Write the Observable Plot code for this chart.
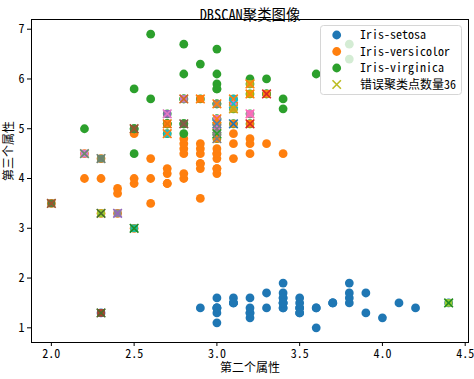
<!DOCTYPE html>
<html>
<head>
<meta charset="utf-8">
<script src="https://cdn.jsdelivr.net/npm/d3@7"></script>
<script src="https://cdn.jsdelivr.net/npm/@observablehq/plot@0.6"></script>
<style>
  html, body { margin: 0; padding: 0; background: #fff; }
  svg { display: block; }
</style>
</head>
<body>
<div id="chart"></div>
<script>
// ---- data (sepal width = 第二个属性, petal length = 第三个属性) ----
const setosaX = [3.5,3.0,3.2,3.1,3.6,3.9,3.4,3.4,2.9,3.1,3.7,3.4,3.0,3.0,4.0,4.4,3.9,3.5,3.8,3.8,3.4,3.7,3.6,3.3,3.4,3.0,3.4,3.5,3.4,3.2,3.1,3.4,4.1,4.2,3.1,3.2,3.5,3.6,3.0,3.4,3.5,2.3,3.2,3.5,3.8,3.0,3.8,3.2,3.7,3.3];
const setosaY = [1.4,1.4,1.3,1.5,1.4,1.7,1.4,1.5,1.4,1.5,1.5,1.6,1.4,1.1,1.2,1.5,1.3,1.4,1.7,1.5,1.7,1.5,1.0,1.7,1.9,1.6,1.6,1.5,1.4,1.6,1.6,1.5,1.5,1.4,1.5,1.2,1.3,1.4,1.3,1.5,1.3,1.3,1.3,1.6,1.9,1.4,1.6,1.4,1.5,1.4];
const versicolorX = [3.2,3.2,3.1,2.3,2.8,2.8,3.3,2.4,2.9,2.7,2.0,3.0,2.2,2.9,2.9,3.1,3.0,2.7,2.2,2.5,3.2,2.8,2.5,2.8,2.9,3.0,2.8,3.0,2.9,2.6,2.4,2.4,2.7,2.7,3.0,3.4,3.1,2.3,3.0,2.5,2.6,3.0,2.6,2.3,2.7,3.0,2.9,2.9,2.5,2.8];
const versicolorY = [4.7,4.5,4.9,4.0,4.6,4.5,4.7,3.3,4.6,3.9,3.5,4.2,4.0,4.7,3.6,4.4,4.5,4.1,4.5,3.9,4.8,4.0,4.9,4.7,4.3,4.4,4.8,5.0,4.5,3.5,3.8,3.7,3.9,5.1,4.5,4.5,4.7,4.4,4.1,4.0,4.4,4.6,4.0,3.3,4.2,4.2,4.2,4.3,3.0,4.1];
const virginicaX = [3.3,2.7,3.0,2.9,3.0,3.0,2.5,2.9,2.5,3.6,3.2,2.7,3.0,2.5,2.8,3.2,3.0,3.8,2.6,2.2,3.2,2.8,2.8,2.7,3.3,3.2,3.0,2.8,3.0,2.8,3.8,2.8,2.8,2.6,3.0,3.4,3.1,3.0,3.1,3.1,3.1,2.7,3.2,3.3,3.0,2.5,3.0,3.4,3.0];
const virginicaY = [6.0,5.1,5.9,5.6,5.8,6.6,4.5,6.3,5.8,6.1,5.1,5.3,5.5,5.0,5.1,5.3,5.5,6.7,6.9,5.0,5.7,4.9,6.7,4.9,5.7,6.0,4.9,5.6,5.8,6.1,6.4,5.6,5.1,5.6,6.1,5.6,5.5,4.8,5.4,5.6,5.1,5.1,5.9,5.7,5.2,5.0,5.2,5.4,5.1];
// wrongly clustered points, with the colours the original drew them in
const wrongX = [2.0,2.3,2.4,2.5,2.3,4.4,2.2,2.3,2.5,2.7,2.7,2.7,2.8,2.8,2.9,3.0,3.0,3.0,3.0,3.0,3.0,3.1,3.1,3.1,3.1,3.2,3.2,3.2,3.2,3.3];
const wrongY = [3.5,3.3,3.3,3.0,1.3,1.5,4.5,4.4,5.0,5.3,5.1,4.9,5.6,5.1,5.6,5.5,5.2,5.1,5.0,4.9,4.8,5.6,5.5,5.4,5.1,5.9,5.7,5.3,5.1,5.7];
const wrongFill = ["#5b7a3c","#9acd32","#8a8a8a","#1abc9c","#b0412a","#9acd32","#d07ad0","#6b8e6b","#5b7a3c","#9467bd","#ff7f0e","#17becf","#c27fc4","#5b7a3c","#ff7f0e","#8a8a8a","#e377c2","#ff7f0e","#e377c2","#8a8a8a","#ff7f0e","#17becf","#e377c2","#c8b21e","#ff7f0e","#c8b21e","#d4b000","#e377c2","#ff7f0e","#ff7f0e"];
const wrongStroke = ["#a0522d","#4b6b2b","#9467bd","#228b22","#4b6b2b","#228b22","#6b8e6b","#708070","#a0522d","#e377c2","#e8740c","#ff7f0e","#d2691e","#8c564b","#ff7f0e","#ff7f0e","#ff7f0e","#4682b4","#7f7f7f","#2ca02c","#7f7f7f","#ff7f0e","#17becf","#d4a017","#1f77b4","#ff7f0e","#ff7f0e","#ff69b4","#d62728","#d62728"];
const xTicks = [2.0, 2.5, 3.0, 3.5, 4.0, 4.5];
const yTicks = [1, 2, 3, 4, 5, 6, 7];
const legendLabels = ["Iris-setosa","Iris-versicolor","Iris-virginica","错误聚类点数量36"];
const seriesColors = ["#1f77b4","#ff7f0e","#2ca02c"];
const wrongLegendColor = "#bcbd22";

const zip = (xs, ys) => xs.map((x, i) => ({x, y: ys[i]}));
const setosa = zip(setosaX, setosaY);
const versicolor = zip(versicolorX, versicolorY);
const virginica = zip(virginicaX, virginicaY);
const wrong = wrongX.map((x, i) => ({x, y: wrongY[i], f: wrongFill[i], s: wrongStroke[i]}));

const FONT = '"Noto Sans Mono CJK SC", "DejaVu Sans Mono", "Noto Sans CJK SC", monospace';

const plot = Plot.plot({
  width: 474,
  height: 379,
  marginLeft: 31,
  marginRight: 6,
  marginTop: 19,
  marginBottom: 37,
  style: {fontFamily: FONT, fontSize: "12px", background: "#fff", color: "#000"},
  x: {domain: [1.88, 4.52], label: null},
  y: {domain: [0.705, 7.195], label: null},
  color: {type: "identity"},
  marks: [
    Plot.axisX(xTicks, {tickSize: 4, tickPadding: 3, fontSize: 12, tickFormat: d3.format(".1f"), label: null}),
    Plot.axisY(yTicks, {tickSize: 4, tickPadding: 3, fontSize: 12, tickFormat: d3.format("d"), label: null}),
    Plot.dot(setosa, {x: "x", y: "y", r: 4.4, fill: seriesColors[0]}),
    Plot.dot(versicolor, {x: "x", y: "y", r: 4.4, fill: seriesColors[1]}),
    Plot.dot(virginica, {x: "x", y: "y", r: 4.4, fill: seriesColors[2]}),
    Plot.dot(wrong, {x: "x", y: "y", symbol: "square", r: 4.3, fill: "f"}),
    Plot.dot(wrong, {x: "x", y: "y", symbol: "times", r: 4.0, stroke: "s", strokeWidth: 1.6}),
    Plot.frame({stroke: "#000", strokeWidth: 1}),
    Plot.text(["DBSCAN聚类图像"], {frameAnchor: "top", dy: -10, fontSize: 14.4}),
    Plot.text(["第二个属性"], {frameAnchor: "bottom", dy: 29, fontSize: 12}),
    Plot.text(["第三个属性"], {frameAnchor: "left", dx: -22, rotate: -90, fontSize: 12})
  ]
});
document.getElementById("chart").appendChild(plot);

// legend (matplotlib style, upper right, semi-transparent)
const svg = d3.select(plot);
const lg = svg.append("g").attr("font-family", FONT).attr("font-size", 12).attr("text-anchor", "start");
lg.append("rect").attr("x", 320.5).attr("y", 25.5).attr("width", 141).attr("height", 69)
  .attr("rx", 3).attr("fill", "#fff").attr("fill-opacity", 0.8)
  .attr("stroke", "#d6d6d6").attr("stroke-width", 1);
const rowsY = [35, 51.5, 68, 84.5];
legendLabels.forEach((lab, i) => {
  if (i < 3) {
    lg.append("circle").attr("cx", 336.7).attr("cy", rowsY[i]).attr("r", 4.4).attr("fill", seriesColors[i]);
  } else {
    const s = 4.2;
    lg.append("path").attr("d", `M${336.7 - s},${rowsY[i] - s}L${336.7 + s},${rowsY[i] + s}M${336.7 - s},${rowsY[i] + s}L${336.7 + s},${rowsY[i] - s}`)
      .attr("stroke", wrongLegendColor).attr("stroke-width", 1.6).attr("fill", "none");
  }
  lg.append("text").attr("x", 360).attr("y", rowsY[i]).attr("dy", "0.35em").text(lab);
});
</script>
</body>
</html>
